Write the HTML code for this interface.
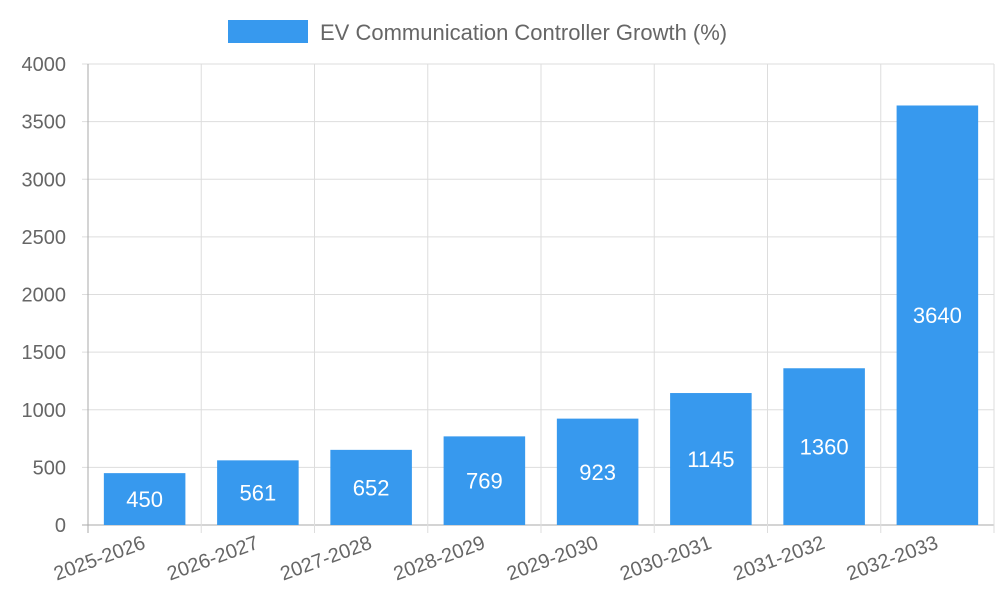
<!DOCTYPE html>
<html><head><meta charset="utf-8"><style>
body{margin:0;background:#fff;font-family:"Liberation Sans",sans-serif}
svg text{font-family:"Liberation Sans",sans-serif}
</style></head><body>
<svg id="chart" width="1000" height="600" xmlns="http://www.w3.org/2000/svg">
<g>
<rect x="228" y="20" width="80" height="23" fill="#3799ee"/>
<text x="320" y="40" font-size="22" fill="#666">EV Communication Controller Growth (%)</text>
</g>
<g id="grid"></g><g id="bars"></g><g id="labels"></g>
</svg>
<script>
const categories=["2025-2026","2026-2027","2027-2028","2028-2029","2029-2030","2030-2031","2031-2032","2032-2033"];
const values=[450,561,652,769,923,1145,1360,3640];
const yTicks=[0,500,1000,1500,2000,2500,3000,3500,4000];
const NS="http://www.w3.org/2000/svg";
const X0=88,X1=994,Y0=525,Y1=64,YMAX=4000;
const bw=(X1-X0)/categories.length;
const y=v=>Y0-(v/YMAX)*(Y0-Y1);
const xc=i=>X0+bw*(i+0.5);
function mk(t,a,p){const e=document.createElementNS(NS,t);for(const k in a)e.setAttribute(k,a[k]);p.appendChild(e);return e;}
const g=document.getElementById('grid'),b=document.getElementById('bars'),l=document.getElementById('labels');
yTicks.forEach(v=>{
 const ln=mk('line',{x1:X0-6,x2:X1,y1:y(v),y2:y(v),stroke:v===0?'#aaa':'#ddd','stroke-width':1},g);
 
 
 const t=mk('text',{x:66,y:y(v)+7,'text-anchor':'end','font-size':20,fill:'#666'},g);
 t.textContent=v;
 
 
});
for(let i=0;i<=categories.length;i++){
 const x=X0+bw*i;
 const ln=mk('line',{x1:x,x2:x,y1:Y1,y2:Y0+8,stroke:i===0?'#aaa':'#ddd','stroke-width':1},g);
 
 
}
categories.forEach((c,i)=>{
 const w=bw*0.72,v=values[i];
 const r=mk('rect',{x:xc(i)-w/2,y:y(v),width:w,height:Y0-y(v),fill:'#3799ee'},b);
 
 
 const vt=mk('text',{x:xc(i),y:(y(v)+Y0)/2+8,'text-anchor':'middle','font-size':22,fill:'#fff'},l);
 vt.textContent=v;
 
 
 const tx=xc(i)+2,ty=548;
 const t=mk('text',{x:tx,y:ty,'text-anchor':'end','font-size':20,fill:'#666',transform:`rotate(-20 ${tx} ${ty})`},l);
 t.textContent=c;
 
 
});
</script>
</body></html>
